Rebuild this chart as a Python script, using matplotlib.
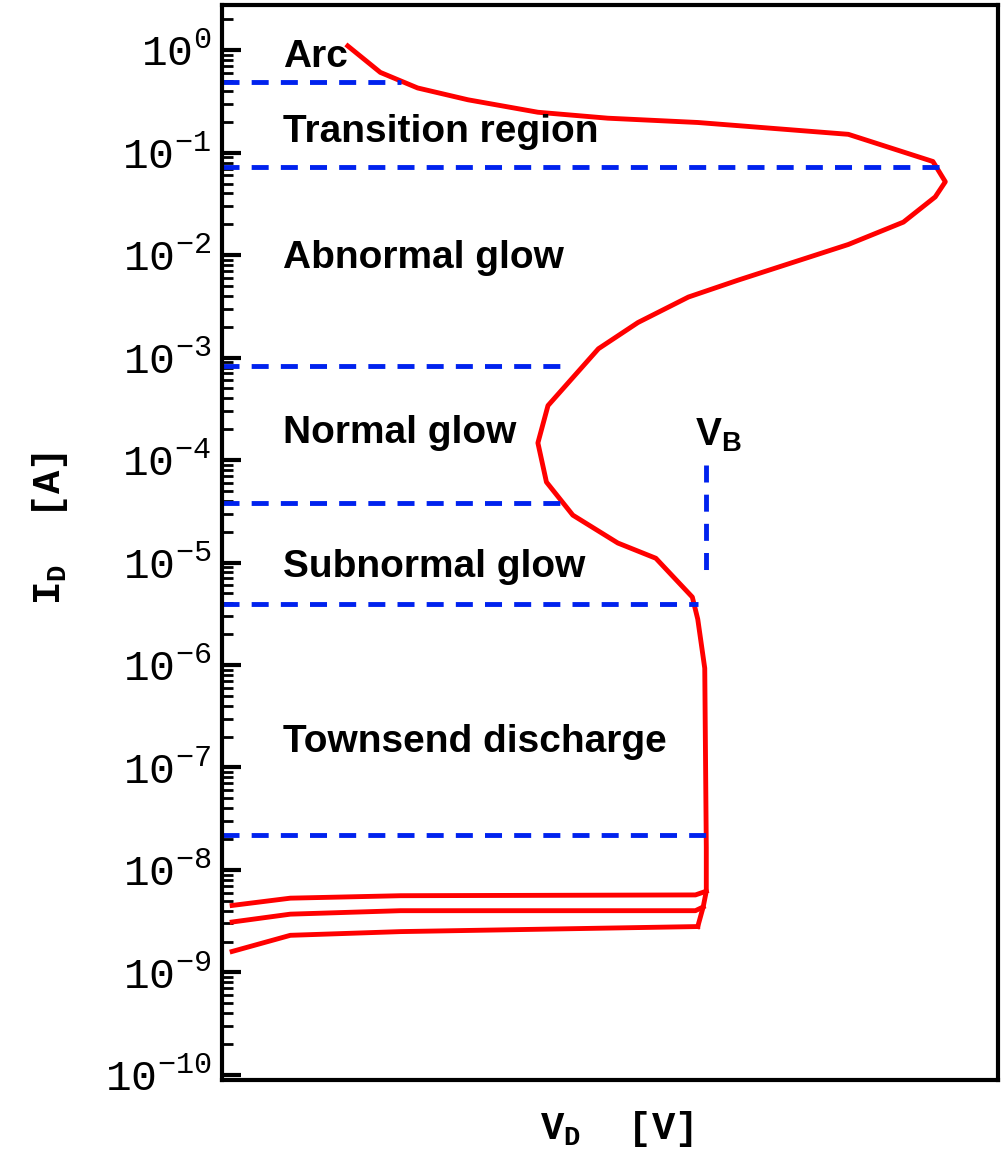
import matplotlib
matplotlib.use('Agg')
import matplotlib.pyplot as plt
from matplotlib.ticker import LogLocator, NullFormatter, FixedLocator

# Spannung in willkürlichen Einheiten (0..100), Strom in A
main_v = [16.2, 20.4, 25.2, 31.7, 40.7, 49.7, 61.3, 80.7, 91.6, 93.2, 91.9, 87.8, 80.7, 66.5, 60.1, 53.6, 48.5, 42.0, 40.7, 41.8, 45.2, 51.0, 55.9, 60.6, 61.3, 62.2, 62.4, 62.4, 62.0, 61.3]
main_i = [1.1e0, 6.07e-1, 4.28e-1, 3.28e-1, 2.48e-1, 2.17e-1, 1.97e-1, 1.51e-1, 8.2e-2, 5.2e-2, 3.7e-2, 2.1e-2, 1.27e-2, 5.7e-3, 3.9e-3, 2.2e-3, 1.22e-3, 3.4e-4, 1.47e-4, 6.1e-5, 2.9e-5, 1.55e-5, 1.1e-5, 4.6e-6, 2.8e-6, 9.3e-7, 1.65e-8, 6.2e-9, 4.35e-9, 2.8e-9]

branch_top_v = [1.3, 8.8, 23.0, 61.0, 62.4]
branch_top_i = [4.5e-9, 5.3e-9, 5.6e-9, 5.7e-9, 6.2e-9]
branch_mid_v = [1.3, 8.8, 23.0, 61.0, 62.0]
branch_mid_i = [3.1e-9, 3.7e-9, 4.0e-9, 4.0e-9, 4.35e-9]
branch_low_v = [1.3, 8.8, 23.0, 61.3]
branch_low_i = [1.6e-9, 2.3e-9, 2.5e-9, 2.8e-9]

# Grenzen der Bereiche (Strom, Ende der gestrichelten Linie in V)
bounds_i = [0.49, 7.2e-2, 8.2e-4, 3.8e-5, 3.9e-6, 2.2e-8]
bounds_v = [23.0, 93.3, 44.3, 44.3, 61.3, 62.4]

region_names = ['Arc', 'Transition region', 'Abnormal glow', 'Normal glow', 'Subnormal glow', 'Townsend discharge']
region_i = [0.85, 1.58e-1, 9.3e-3, 1.83e-4, 9.0e-6, 1.78e-7]

vb_v = 62.4
vb_i = [8.9e-5, 7.1e-6]

fig = plt.figure(figsize=(10.02, 11.62), dpi=100)
ax = fig.add_axes([0.2216, 0.0706, 0.7745, 0.925])

red = '#ff0000'
ax.plot(main_v, main_i, color=red, lw=3.5)
for bv, bi in ((branch_top_v, branch_top_i), (branch_mid_v, branch_mid_i), (branch_low_v, branch_low_i)):
    ax.plot(bv, bi, color=red, lw=3.5)

for i, v in zip(bounds_i, bounds_v):
    ax.plot([0, v], [i, i], color='#0022ee', lw=3.5, ls=(0, (3.5, 2.5)))
ax.plot([vb_v, vb_v], vb_i, color='#0022ee', lw=3.5, ls=(0, (3.5, 2.5)))

for name, i in zip(region_names, region_i):
    ax.text(7.8, i, name, fontsize=28, fontweight='bold', family='Liberation Sans', va='center')
ax.text(61.0, 1.75e-4, r'V$_\mathregular{B}$', fontsize=28, fontweight='bold', family='Liberation Sans', va='center')

ax.set_yscale('log')
ax.set_xlim(0, 100)
ax.set_ylim(10**-10.05, 10**0.44)
ax.set_xticks([])
ax.yaxis.set_major_locator(FixedLocator([10.0**k for k in range(-10, 1)]))
ax.yaxis.set_minor_locator(LogLocator(base=10, subs=range(2, 10), numticks=30))
ax.yaxis.set_minor_formatter(NullFormatter())
ax.set_yticklabels([r'$\mathregular{10^{%d}}$' % k for k in range(-10, 1)], family='Liberation Mono')
ax.tick_params(axis='y', which='major', direction='in', length=14, width=3, labelsize=31, pad=8)
ax.tick_params(axis='y', which='minor', direction='in', length=8, width=2)
for s in ax.spines.values():
    s.set_linewidth(3)

fig.text(0.615, 0.02, r'V$_\mathregular{D}$  [V]', fontsize=28, fontweight='bold', family='Liberation Mono', ha='center')
fig.text(0.03, 0.545, r'I$_\mathregular{D}$  [A]', fontsize=28, fontweight='bold', family='Liberation Mono', va='center', rotation=90)

fig.savefig('out.png', dpi=100)
